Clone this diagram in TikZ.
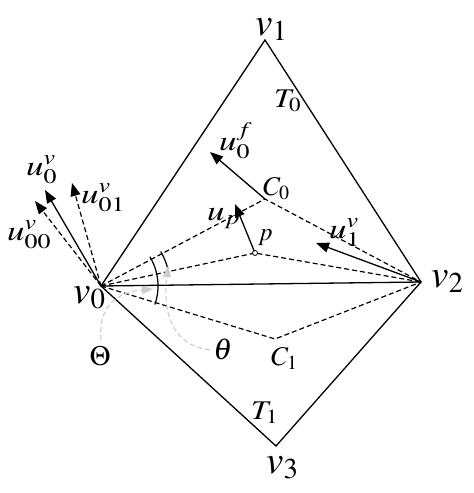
\documentclass[tikz,border=0pt]{standalone}
\usepackage{mathptmx}
\usetikzlibrary{arrows.meta}
\begin{document}
\begin{tikzpicture}[x=1pt,y=-1pt,
  edge/.style={line width=1.3pt},
  dline/.style={line width=1.2pt,dash pattern=on 5pt off 3pt},
  vec/.style={line width=1.3pt,-{Triangle[length=13pt,width=10pt]}},
  dvec/.style={line width=1.2pt,dash pattern=on 5pt off 3pt,-{Triangle[length=13pt,width=10pt]}},
  gvec/.style={line width=1.1pt,gray!40,dash pattern=on 5pt off 3pt,-{Triangle[length=11pt,width=8pt,fill=gray!40]}},
  big/.style={inner sep=0pt,anchor=base west,font=\fontsize{39}{39}\selectfont},
  lab/.style={inner sep=0pt,anchor=base west,font=\fontsize{27}{27}\selectfont},
  ulab/.style={inner sep=0pt,anchor=base west,font=\fontsize{28}{28}\selectfont}]
\useasboundingbox (0,0) rectangle (474,493);
% points
\coordinate (v0) at (101,286);
\coordinate (v1) at (265,40);
\coordinate (v2) at (421,282);
\coordinate (v3) at (276,446);
\coordinate (C0) at (265,199);
\coordinate (C1) at (275,339);
\coordinate (p) at (255,253);
\coordinate (upt) at (235,204);
\coordinate (uft) at (210,152);
\coordinate (u1t) at (316,243);
\coordinate (u0t) at (45,190);
\coordinate (u00t) at (35,201);
\coordinate (u01t) at (72,183);
\coordinate (gT0) at (101,340);
\coordinate (gT1) at (153,289);
\coordinate (gt0) at (210,350);
\coordinate (gt1) at (168,266);
% triangle edges
\draw[edge] (v0) -- (v1) -- (v2) -- (v3) -- cycle;
\draw[edge] (v0) -- (v2);
% dashed lines
\draw[dline] (v0) -- (C0) -- (v2);
\draw[dline] (v0) -- (p) -- (v2);
\draw[dline] (v0) -- (C1) -- (v2);
% vectors
\draw[vec] (p) -- (upt);
\draw[vec] (C0) -- (uft);
\draw[vec] (v2) -- (u1t);
\draw[vec] (v0) -- (u0t);
\draw[dvec] (v0) -- (u00t);
\draw[dvec] (v0) -- (u01t);
\draw[line width=0.8pt,fill=white] (p) circle (2.5pt);
% angle arcs
\draw[line width=1.2pt] ([shift={(-31:57)}]v0) arc[start angle=-31,end angle=19,radius=57];
\draw[line width=1.2pt] ([shift={(-30:69)}]v0) arc[start angle=-30,end angle=-9,radius=69];
% grey pointers
\draw[gvec] (gT0) .. controls (98,305) and (118,292) .. (gT1);
\draw[gvec] (gt0) .. controls (170,345) and (163,310) .. (gt1);
% labels
\node[big] (lv1) at (255,35) {$v_1$};
\node[big] (lv2) at (431,287) {$v_2$};
\node[big] (lv0) at (73,303) {$v_0$};
\node[big] (lv3) at (266,473) {$v_3$};
\node[lab] (lT0) at (274,107) {\scalebox{1.15}[1]{$T_0$}};
\node[lab] (lT1) at (251,419) {\scalebox{1.15}[1]{$T_1$}};
\node[lab] (lC0) at (263,195) {$C_0$};
\node[lab] (lC1) at (271,365) {$C_1$};
\node[ulab] (luf) at (219,150) {\scalebox{1.25}[1]{$u_0^f$}};
\node[ulab] (lup) at (207,220) {\scalebox{1.25}[1]{$u_p$}};
\node[inner sep=0pt,anchor=base west,font=\fontsize{25}{25}\selectfont] (lp) at (258,240) {$p$};
\node[ulab] (lu1) at (329,238) {\scalebox{1.25}[1]{$u_1^v$}};
\node[ulab] (lu0) at (26,175) {\scalebox{1.25}[1]{$u_0^v$}};
\node[ulab] (lu01) at (81,203) {\scalebox{1.25}[1]{$u_{01}^v$}};
\node[ulab] (lu00) at (7,240) {\scalebox{1.25}[1]{$u_{00}^v$}};
\node[inner sep=0pt,font=\fontsize{28}{28}\selectfont] (lTh) at (100,356) {$\Theta$};
\node[inner sep=0pt,font=\fontsize{30}{30}\selectfont] (lth) at (223,349) {$\theta$};
\end{tikzpicture}
\end{document}
